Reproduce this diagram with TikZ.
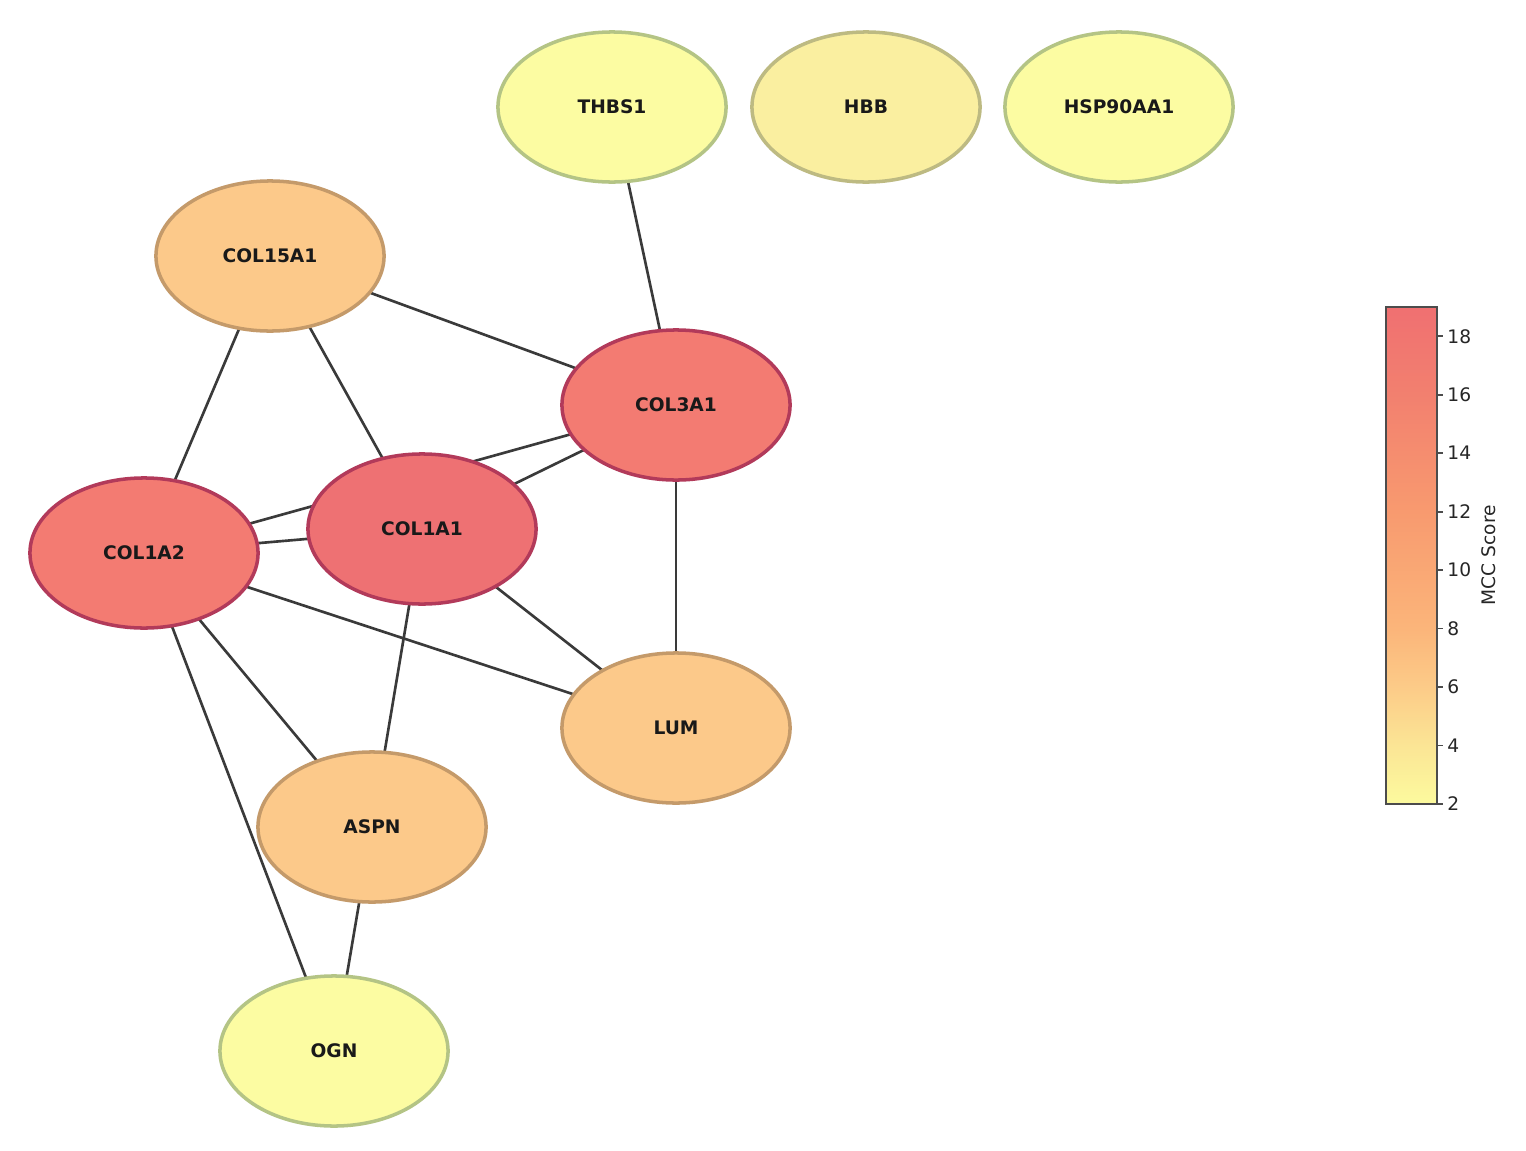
\documentclass[tikz,border=0pt]{standalone}
\usepackage{fontspec}
\setmainfont{DejaVu Sans}
\usetikzlibrary{shapes.geometric}
\usetikzlibrary{backgrounds}

\definecolor{hotfill}{HTML}{F37B72}
\definecolor{hotfilltop}{HTML}{EE7173}
\definecolor{hotline}{HTML}{B23A5A}
\definecolor{warmfill}{HTML}{FCC98A}
\definecolor{warmline}{HTML}{C49A6A}
\definecolor{coolfill}{HTML}{FCFCA2}
\definecolor{coolline}{HTML}{B4C485}
\definecolor{palefill}{HTML}{FAEFA0}
\definecolor{paleline}{HTML}{BDBA82}
\definecolor{edgegray}{HTML}{3A3A3A}
\definecolor{mccA}{HTML}{FCFA9E}
\definecolor{mccB}{HTML}{FBE595}
\definecolor{mccC}{HTML}{FCCB88}
\definecolor{mccD}{HTML}{FBB57A}
\definecolor{mccE}{HTML}{F89A6F}
\definecolor{mccF}{HTML}{F2806F}
\definecolor{mccG}{HTML}{F07071}

\pgfdeclareverticalshading{mccbar}{100bp}{color(0bp)=(mccA); color(25bp)=(mccA);
  color(30.9bp)=(mccB); color(36.8bp)=(mccC); color(42.6bp)=(mccD);
  color(54.4bp)=(mccE); color(66.2bp)=(mccF); color(75bp)=(mccG); color(100bp)=(mccG)}

\begin{document}
\begin{tikzpicture}[x=0.01cm, y=-0.01cm,
    gene/.style={ellipse, minimum width=2.28cm, minimum height=1.5cm, inner sep=0pt,
      line width=1pt, text=black!90, font=\fontsize{5.3}{6}\selectfont\bfseries},
    hot/.style={gene, fill=hotfill, draw=hotline},
    warm/.style={gene, fill=warmfill, draw=warmline},
    cool/.style={gene, fill=coolfill, draw=coolline},
    link/.style={draw=edgegray, line width=0.75pt},
    ticklabel/.style={right, inner sep=1pt, text=black!85, font=\fontsize{5.3}{6}\selectfont}]
    \useasboundingbox (0,0) rectangle (1526,1151);
    % Draw the genes
    \node[cool] (THBS1) at (612,107) {THBS1};
    \node[gene, fill=palefill, draw=paleline] (HBB) at (866,107) {HBB};
    \node[cool] (HSP90AA1) at (1119,107) {HSP90AA1};
    \node[warm] (COL15A1) at (270,256) {COL15A1};
    \node[hot] (COL3A1) at (676,405) {COL3A1};
    \node[hot, fill=hotfilltop] (COL1A1) at (422,529) {COL1A1};
    \node[hot] (COL1A2) at (144,553) {COL1A2};
    \node[warm] (LUM) at (676,728) {LUM};
    \node[warm] (ASPN) at (372,827) {ASPN};
    \node[cool] (OGN) at (334,1051) {OGN};
    % Draw the interactions behind the genes
    \begin{pgfonlayer}{background}
        \foreach \a/\b in {THBS1/COL3A1, COL15A1/COL3A1, COL15A1/COL1A2, COL15A1/COL1A1,
            COL1A1/COL3A1, COL1A2/COL3A1, COL1A2/COL1A1, COL3A1/LUM, COL1A1/LUM,
            COL1A2/LUM, COL1A1/ASPN, COL1A2/ASPN, COL1A2/OGN, ASPN/OGN}{
            \draw[link] (\a.center) -- (\b.center);
        }
    \end{pgfonlayer}
    % Draw the colour bar
    \shade[shading=mccbar] (1386,307) rectangle (1437,804);
    \draw[line width=0.6pt, draw=black!70] (1386,307) rectangle (1437,804);
    \foreach \v in {2,4,...,18}{
        \draw[line width=0.5pt, black!70] (1437,{804-(\v-2)*29.235}) -- ++(6,0) node[ticklabel] {\v};
    }
    \node[rotate=90, text=black!85, font=\fontsize{5.3}{6}\selectfont] (mcclabel) at (1489,555) {MCC Score};
\end{tikzpicture}
\end{document}
